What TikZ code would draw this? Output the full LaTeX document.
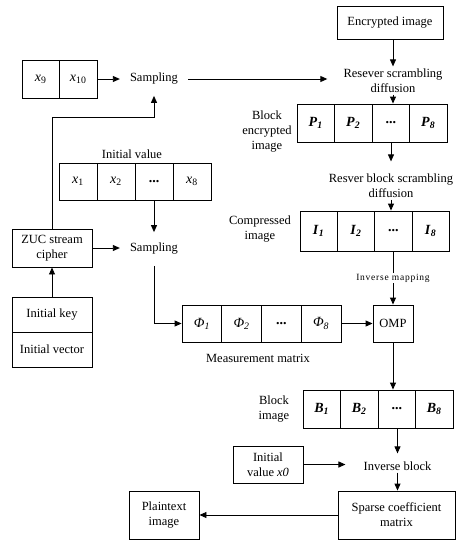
\documentclass[tikz,border=0pt]{standalone}
\usepackage{fontspec}
\setmainfont{Liberation Serif}
\usetikzlibrary{arrows.meta}

\newcommand{\blkcell}[2]{\textbf{\textit{#1}\textsubscript{\textit{#2}}}}
\newcommand{\varcell}[1]{\textit{x}\textsubscript{#1}}

\begin{document}
\begin{tikzpicture}[x=1pt,y=-1pt,
    font=\fontsize{12.5}{15}\selectfont,
    box/.style={draw,line width=0.9pt,inner sep=0pt,align=center},
    cell/.style={box,minimum width=37.5pt,minimum height=38pt,font=\fontsize{14}{16}\selectfont},
    txt/.style={inner sep=2pt,align=center},
    samp/.style={inner xsep=10pt,inner ysep=11pt},
    arr/.style={-{Triangle[length=7pt,width=6pt]},line width=0.9pt}]
    \useasboundingbox (0,0) rectangle (466,550);

    % Key stream side
    \node[cell] (x9) at (40.75,79) {\varcell{9}};
    \node[cell] (x10) at (78.25,79) {\varcell{10}};
    \node[samp] (samp1) at (154,79) {Sampling};

    \node[txt] (initval) at (132,154) {Initial value};
    \node[cell,minimum width=38pt,minimum height=37pt] (x1) at (78,181.5) {\varcell{1}};
    \node[cell,minimum width=38pt,minimum height=37pt] (x2) at (116,181.5) {\varcell{2}};
    \node[cell,minimum width=38pt,minimum height=37pt] (x3) at (154,181.5) {\textbf{...}};
    \node[cell,minimum width=38pt,minimum height=37pt] (x8) at (192,181.5) {\varcell{8}};

    \node[box,minimum width=80pt,minimum height=38pt] (zuc) at (52,248) {ZUC stream\\cipher};
    \node[samp] (samp2) at (154,249) {Sampling};
    \node[box,minimum width=80pt,minimum height=35pt] (key) at (52,314.5) {Initial key};
    \node[box,minimum width=80pt,minimum height=35pt] (vec) at (52,349.5) {Initial vector};

    % Measurement matrix
    \node[cell,minimum width=39.75pt,minimum height=37pt] (phi1) at (201.9,323.5) {\textit{Φ}\textsubscript{\textit{1}}};
    \node[cell,minimum width=39.75pt,minimum height=37pt] (phi2) at (241.6,323.5) {\textit{Φ}\textsubscript{\textit{2}}};
    \node[cell,minimum width=39.75pt,minimum height=37pt] (phi3) at (281.4,323.5) {\textbf{...}};
    \node[cell,minimum width=39.75pt,minimum height=37pt] (phi8) at (321.1,323.5) {\textit{Φ}\textsubscript{\textit{8}}};
    \node[txt] (measlbl) at (258,358) {Measurement matrix};

    % Decryption chain
    \node[box,minimum width=106pt,minimum height=33pt] (enc) at (390,22.5) {Encrypted image};
    \node[txt] (rsd) at (393,80.5) {Resever scrambling\\diffusion};

    \node[txt] (blkenc) at (267,132) {Block\\encrypted\\image};
    \node[cell] (p1) at (315.75,123) {\blkcell{P}{1}};
    \node[cell] (p2) at (353.25,123) {\blkcell{P}{2}};
    \node[cell] (p3) at (390.75,123) {\textbf{...}};
    \node[cell] (p8) at (428.25,123) {\blkcell{P}{8}};

    \node[txt] (rbsd) at (391,185.5) {Resver block scrambling\\diffusion};

    \node[txt] (complbl) at (260,229.5) {Compressed\\image};
    \node[cell,minimum width=37.25pt,minimum height=40pt] (i1) at (318.6,231) {\blkcell{I}{1}};
    \node[cell,minimum width=37.25pt,minimum height=40pt] (i2) at (356,231) {\blkcell{I}{2}};
    \node[cell,minimum width=37.25pt,minimum height=40pt] (i3) at (393.4,231) {\textbf{...}};
    \node[cell,minimum width=37.25pt,minimum height=40pt] (i8) at (430.6,231) {\blkcell{I}{8}};

    \node[box,minimum width=40pt,minimum height=37pt] (omp) at (393,323.5) {OMP};

    \node[txt] (blklbl) at (274,409.5) {Block\\image};
    \node[cell] (b1) at (321.75,409) {\blkcell{B}{1}};
    \node[cell] (b2) at (359.25,409) {\blkcell{B}{2}};
    \node[cell] (b3) at (396.75,409) {\textbf{...}};
    \node[cell] (b8) at (434.25,409) {\blkcell{B}{8}};

    \node[box,minimum width=70pt,minimum height=37pt] (x0) at (268,464.5) {Initial\\value \textit{x0}};
    \node[txt] (invblk) at (397.5,466) {Inverse block};
    \node[box,minimum width=117pt,minimum height=48pt] (sparse) at (396.5,515) {Sparse coefficient\\matrix};
    \node[box,minimum width=70pt,minimum height=48pt] (plain) at (164,515) {Plaintext\\image};

    % Connectors
    \draw[arr] (x10) -- (samp1);
    \draw[arr] (zuc.north) -- ++(0,-111) -| (samp1);
    \draw[arr] (samp1.east) -- (samp1.east -| rsd.west) [shorten >=14pt];
    \draw[arr] (x3) -- (samp2);
    \draw[arr] (key) -- (zuc);
    \draw[arr] (zuc.east) -- (zuc.east -| samp2.west);
    \draw[arr] (samp2) |- (phi1);
    \draw[arr] (phi8) -- (omp);

    \draw[arr] (enc.south -| rsd.north) -- (rsd.north);
    \draw[arr] (rsd.south) -- (rsd.south |- p3.north);
    \draw[arr,shorten >=10pt] (p3.south -| rbsd.north) -- (rbsd.north);
    \draw[arr] (rbsd.south) -- (rbsd.south |- i3.north);
    \draw[arr] (i3.south -| omp.north) -- node[fill=white,inner sep=1pt,
        font=\fontsize{9.5}{11}\selectfont\addfontfeature{LetterSpace=8}] (invmap) {Inverse mapping} (omp.north);
    \draw[arr] (omp.south) -- (omp.south |- b3.north);
    \draw[arr,shorten >=6pt] (b3.south -| invblk.north) -- (invblk.north);
    \draw[arr,shorten >=16pt] (x0.east) -- (x0.east -| invblk.west);
    \draw[arr] (invblk.south) -- (invblk.south |- sparse.north);
    \draw[arr] (sparse) -- (plain);
\end{tikzpicture}
\end{document}
